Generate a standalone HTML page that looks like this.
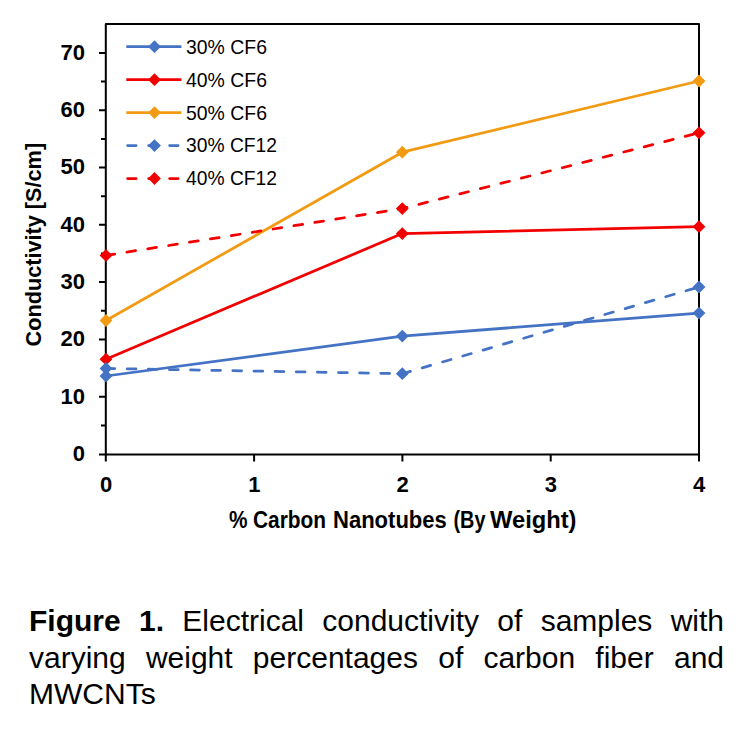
<!DOCTYPE html>
<html><head><meta charset="utf-8">
<style>
html,body{margin:0;padding:0;background:#fff;}
body{width:742px;height:730px;position:relative;overflow:hidden;font-family:"Liberation Sans",sans-serif;}
svg{position:absolute;left:0;top:0;}
.cap{position:absolute;left:29px;top:602.8px;width:695px;font-size:30px;line-height:36.7px;text-align:justify;text-align-last:left;color:#000;}
.cap b{font-weight:bold;}
</style></head><body>
<svg width="742" height="580" viewBox="0 0 742 580">
  <!-- plot border -->
  <g stroke="#000" stroke-width="2" fill="none">
    <path d="M105.8 24 H699 V454.5 H105.8 Z" stroke-linejoin="round"/>
    <!-- y major ticks -->
    <path d="M99 454.5H106 M99 396.7H106 M99 339.4H106 M99 282.1H106 M99 224.8H106 M99 167.5H106 M99 110.2H106 M99 52.9H106"/>
    <!-- y minor ticks -->
    <path d="M101 425.4H106 M101 368.1H106 M101 310.8H106 M101 253.5H106 M101 196.2H106 M101 138.9H106 M101 81.6H106"/>
    <!-- x ticks -->
    <path d="M105.8 454V461.5 M254.1 454V461.5 M402.4 454V461.5 M550.7 454V461.5 M699 454V461.5"/>
  </g>
  <!-- y tick labels -->
  <g font-family="Liberation Sans" font-weight="bold" font-size="22" text-anchor="end" fill="#000">
    <text x="85" y="59.8">70</text>
    <text x="85" y="117.1">60</text>
    <text x="85" y="174.4">50</text>
    <text x="85" y="231.7">40</text>
    <text x="85" y="289.0">30</text>
    <text x="85" y="346.3">20</text>
    <text x="85" y="403.6">10</text>
    <text x="85" y="460.9">0</text>
  </g>
  <g font-family="Liberation Sans" font-weight="bold" font-size="22" text-anchor="middle" fill="#000">
    <text x="106" y="491.5">0</text>
    <text x="254.3" y="491.5">1</text>
    <text x="402.5" y="491.5">2</text>
    <text x="550.8" y="491.5">3</text>
    <text x="699" y="491.5">4</text>
  </g>
  <g font-family="Liberation Sans" font-weight="bold" font-size="23" fill="#000">
    <text x="229" y="527.7" textLength="18.5" lengthAdjust="spacingAndGlyphs">%</text>
    <text x="253" y="527.7" textLength="73" lengthAdjust="spacingAndGlyphs">Carbon</text>
    <text x="333" y="527.7" textLength="113.8" lengthAdjust="spacingAndGlyphs">Nanotubes</text>
    <text x="453.5" y="527.7" textLength="32" lengthAdjust="spacingAndGlyphs">(By</text>
    <text x="490" y="527.7" textLength="86.5" lengthAdjust="spacingAndGlyphs">Weight)</text>
  </g>
  <text transform="translate(40.7,244.7) rotate(-90)" font-family="Liberation Sans" font-weight="bold" font-size="21.7" text-anchor="middle">Conductivity [S/cm]</text>

  <defs>
    <path id="dm" d="M0 -6.4 L6.4 0 L0 6.4 L-6.4 0 Z"/>
  </defs>
  <!-- series -->
  <g fill="none" stroke-width="2.75" stroke-linejoin="round">
    <polyline stroke="#F29A12" points="106,320.5 402.3,152.2 699,81"/>
    <polyline stroke="#F20000" points="106,359.2 402.3,233.6 699,226.7"/>
    <polyline stroke="#4472C4" points="106,376 402.3,336.1 699,313.1"/>
    <polyline stroke="#F20000" stroke-dasharray="8.8 12.34" stroke-linecap="round" points="106,255.4 402.3,208.6 699,132.8"/>
    <polyline stroke="#4472C4" stroke-dasharray="8.8 12.34" stroke-linecap="round" points="106,368.4 402.3,373.7 699,287"/>
  </g>
  <g fill="#F29A12"><use href="#dm" x="106" y="320.5"/><use href="#dm" x="402.3" y="152.2"/><use href="#dm" x="699" y="81"/></g>
  <g fill="#F20000"><use href="#dm" x="106" y="359.2"/><use href="#dm" x="402.3" y="233.6"/><use href="#dm" x="699" y="226.7"/></g>
  <g fill="#4472C4"><use href="#dm" x="106" y="376"/><use href="#dm" x="402.3" y="336.1"/><use href="#dm" x="699" y="313.1"/></g>
  <g fill="#F20000"><use href="#dm" x="106" y="255.4"/><use href="#dm" x="402.3" y="208.6"/><use href="#dm" x="699" y="132.8"/></g>
  <g fill="#4472C4"><use href="#dm" x="106" y="368.4"/><use href="#dm" x="402.3" y="373.7"/><use href="#dm" x="699" y="287"/></g>

  <!-- legend -->
  <g stroke-width="2.75" fill="none">
    <path stroke="#4472C4" d="M126.3 46.7H181.4"/>
    <path stroke="#F20000" d="M126.3 79.65H181.4"/>
    <path stroke="#F29A12" d="M126.3 112.6H181.4"/>
    <path stroke="#4472C4" stroke-linecap="round" stroke-dasharray="8.5 12.5" d="M127.6 145.55H181"/>
    <path stroke="#F20000" stroke-linecap="round" stroke-dasharray="8.5 12.5" d="M127.6 178.5H181"/>
  </g>
  <use href="#dm" x="154.5" y="46.7" fill="#4472C4"/>
  <use href="#dm" x="154.5" y="79.65" fill="#F20000"/>
  <use href="#dm" x="154.5" y="112.6" fill="#F29A12"/>
  <use href="#dm" x="154.5" y="145.55" fill="#4472C4"/>
  <use href="#dm" x="154.5" y="178.5" fill="#F20000"/>
  <g font-family="Liberation Sans" font-size="21" fill="#000">
    <text x="186" y="53.6" textLength="81" lengthAdjust="spacingAndGlyphs">30% CF6</text>
    <text x="186" y="86.55" textLength="81" lengthAdjust="spacingAndGlyphs">40% CF6</text>
    <text x="186" y="119.5" textLength="81" lengthAdjust="spacingAndGlyphs">50% CF6</text>
    <text x="186" y="152.45" textLength="91" lengthAdjust="spacingAndGlyphs">30% CF12</text>
    <text x="186" y="185.4" textLength="91" lengthAdjust="spacingAndGlyphs">40% CF12</text>
  </g>
</svg>
<div class="cap"><b>Figure 1.</b> Electrical conductivity of samples with varying weight percentages of carbon fiber and MWCNTs</div>
</body></html>
